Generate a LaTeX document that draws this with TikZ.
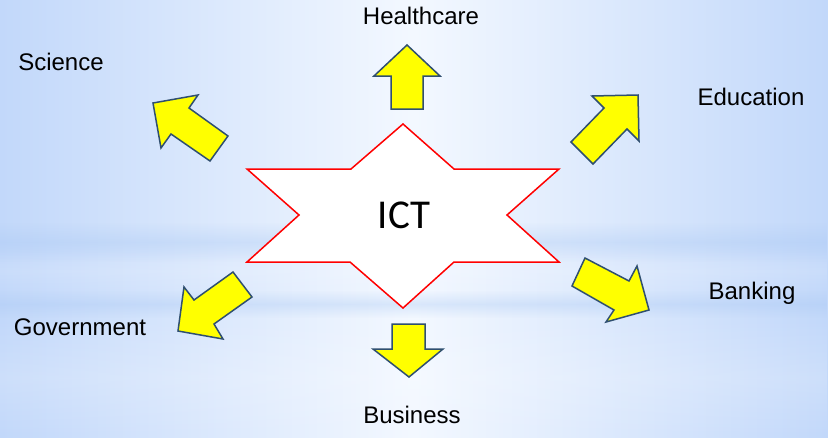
\documentclass[tikz,border=0pt]{standalone}
\usepackage{fontspec}
\setmainfont{Liberation Sans}
\newfontfamily\carl{Carlito}
\usetikzlibrary{fadings}
\definecolor{bgedge}{HTML}{C2D8FA}
\definecolor{bgmid}{HTML}{F3F8FF}
\definecolor{bandblue}{HTML}{A9C8F4}
\definecolor{arrline}{HTML}{2F4F70}
\definecolor{arrfill}{HTML}{FFFF00}
\tikzfading[name=bandfade, top color=transparent!100, bottom color=transparent!100, middle color=transparent!65]
\tikzset{
  lbl/.style={font=\fontsize{24}{27}\selectfont, text=black, inner sep=0pt},
  blockarrow/.style={draw=arrline, fill=arrfill, line width=1.5pt, line join=miter},
  starshape/.style={draw=red, fill=white, line width=1.5pt, line join=miter}
}
\begin{document}
\begin{tikzpicture}[x=1pt,y=-1pt]
\useasboundingbox (0,0) rectangle (828,437);
% background
\shade[left color=bgedge, right color=bgedge, middle color=bgmid] (0,0) rectangle (828,437);
\fill[bandblue, path fading=bandfade] (0,222) rectangle (828,262);
\fill[bandblue, path fading=bandfade] (0,290) rectangle (828,318);
\fill[white, opacity=0.35, path fading=bandfade] (0,250) rectangle (828,292);
\fill[white, opacity=0.5, path fading=bandfade] (0,318) rectangle (828,437);
% star
\draw[starshape] (403,124) -- (351,169) -- (247,169) -- (299,215) -- (247,262) -- (350,262)
  -- (403,308) -- (454,262) -- (559,262) -- (507,215) -- (559,169) -- (454,169) -- cycle;
\node[font=\carl\fontsize{41}{44}\selectfont, inner sep=0pt] (ict) at (404,215) {ICT};
% arrows
\draw[blockarrow] (407,45) -- (440,76) -- (423,76) -- (423,109) -- (391,109) -- (391,76) -- (374,76) -- cycle;
\draw[blockarrow] (392,324) -- (425,324) -- (425,349) -- (443,349) -- (409,377) -- (373,349) -- (392,349) -- cycle;
\draw[blockarrow] (153,103) -- (198,95) -- (189,108) -- (228,136) -- (210,161) -- (171,134) -- (161,148) -- cycle;
\draw[blockarrow] (638,95) -- (639,141) -- (627,129) -- (593,164) -- (571,142) -- (604,108) -- (592,96) -- cycle;
\draw[blockarrow] (649,310) -- (606,322) -- (614,310) -- (572,286) -- (585,258) -- (629,281) -- (637,266) -- cycle;
\draw[blockarrow] (178,331) -- (184,287) -- (194,300) -- (233,272) -- (252,297) -- (214,324) -- (223,339) -- cycle;
% labels
\node[lbl] (health) at (421,16) {Healthcare};
\node[lbl] (sci) at (61,62) {Science};
\node[lbl] (edu) at (751,97) {Education};
\node[lbl] (bank) at (752,293) {Banking};
\node[lbl] (gov) at (80,327) {Government};
\node[lbl] (bus) at (412,415) {Business};
\end{tikzpicture}
\end{document}
